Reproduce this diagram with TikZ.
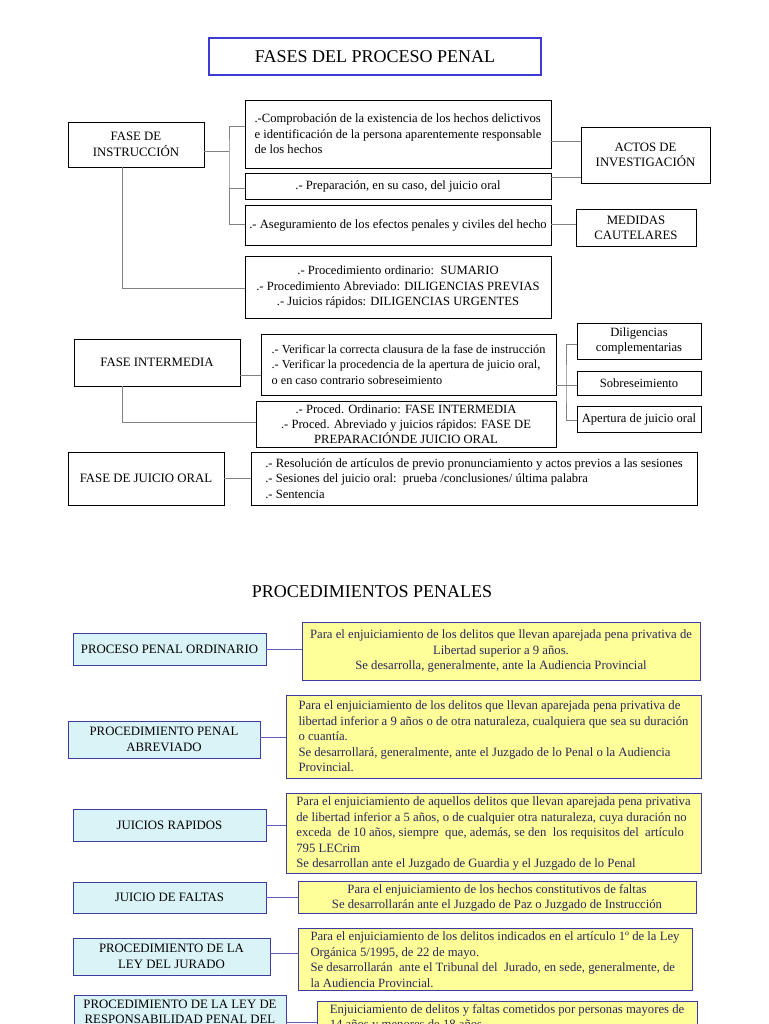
\documentclass[tikz,border=0pt]{standalone}
\usepackage{fontspec}
\setmainfont{Liberation Serif}
\usetikzlibrary{positioning,calc}

\definecolor{azulborde}{RGB}{60,60,160}
\definecolor{azultitulo}{RGB}{60,60,210}
\definecolor{cian}{RGB}{218,243,246}
\definecolor{amarillo}{RGB}{255,255,153}
\definecolor{textoazul}{RGB}{40,40,90}
\definecolor{gris}{RGB}{130,130,130}
\definecolor{enlace}{RGB}{95,95,185}

\tikzset{
  every picture/.style={line width=0.75pt},
  cuerpo/.style={font=\fontsize{12.6}{15.5}\selectfont},
  etiqueta/.style={font=\fontsize{12.8}{15.5}\selectfont},
  fase/.style={draw=black, fill=white, align=center, inner sep=3pt, etiqueta},
  caja/.style={draw=black, fill=white, align=center, inner sep=3pt, cuerpo},
  cajaizq/.style={caja, align=left},
  chica/.style={caja, font=\fontsize{12.6}{14.5}\selectfont},
  link/.style={draw=gris, line width=1pt},
  proc/.style={draw=azulborde, fill=cian, align=center, inner sep=3pt, etiqueta},
  desc/.style={draw=azulborde, fill=amarillo, text=textoazul, align=center, inner sep=3pt, font=\fontsize{12.7}{15.5}\selectfont},
  descizq/.style={desc, align=left},
  linkp/.style={draw=enlace, line width=1pt},
  titulo/.style={font=\fontsize{18}{21}\selectfont}
}

\begin{document}
\begin{tikzpicture}[x=1pt,y=-1pt]
  \useasboundingbox[fill=white] (0,0) rectangle (768,1024);
  \clip (0,0) rectangle (768,1024);

  % Titulo
  \node[titulo, draw=azultitulo, line width=1.8pt, minimum width=332, minimum height=37] (tit) at (375,56.5) {FASES DEL PROCESO PENAL};

  % Fase de instruccion
  \node[fase, minimum width=136, minimum height=45] (fi) at (136,144.5) {FASE DE\\INSTRUCCIÓN};
  \node[cajaizq, minimum width=306, minimum height=68] (b1) at (398,134) {.-Comprobación de la existencia de los hechos delictivos\\e identificación de la persona aparentemente responsable\\de los hechos};
  \node[caja, minimum width=306, minimum height=26] (b2) at (398,186) {.- Preparación, en su caso, del juicio oral};
  \node[caja, minimum width=306, minimum height=40] (b3) at (398,225) {.- Aseguramiento de los efectos penales y civiles del hecho};
  \node[caja, minimum width=306, minimum height=62] (b4) at (398,287) {.- Procedimiento ordinario:\ \ SUMARIO\\.- Procedimiento Abreviado: DILIGENCIAS PREVIAS\\.- Juicios rápidos: DILIGENCIAS URGENTES};
  \node[fase, minimum width=129, minimum height=56] (ac) at (645.5,155) {ACTOS DE\\INVESTIGACIÓN};
  \node[fase, minimum width=120, minimum height=37, font=\fontsize{12.8}{15}\selectfont] (mc) at (636,227.5) {MEDIDAS\\CAUTELARES};

  \coordinate (bi) at (229,152);
  \coordinate (vi) at (122,288);
  \draw[link] (fi.east |- bi) -- (bi);
  \draw[link] (b1.west |- 0,127) -| (bi) |- (b3.west |- 0,225);
  \draw[link] (bi |- 0,189) -- (b2.west |- 0,189);
  \draw[link] (fi.south -| vi) |- (b4.west |- vi);
  \draw[link] (b1.east |- 0,142) -- (ac.west |- 0,142);
  \draw[link] (b2.east |- 0,178) -- (ac.west |- 0,178);
  \draw[link] (b3.east) -- (mc.west |- b3.east);

  % Fase intermedia
  \node[fase, minimum width=166, minimum height=47] (fm) at (157,362.5) {FASE INTERMEDIA};
  \node[cajaizq, minimum width=295, minimum height=61, font=\fontsize{12.3}{15.5}\selectfont] (b5) at (408.5,364.5) {.- Verificar la correcta clausura de la fase de instrucción\\.- Verificar la procedencia de la apertura de juicio oral,\\o en caso contrario sobreseimiento};
  \node[caja, minimum width=300, minimum height=46, font=\fontsize{12.6}{14.8}\selectfont] (b6) at (406,424) {.- Proced. Ordinario: FASE INTERMEDIA\\.- Proced. Abreviado y juicios rápidos: FASE DE\\PREPARACIÓNDE JUICIO ORAL};
  \node[chica, minimum width=124, minimum height=36] (dc) at (639,341) {Diligencias\\complementarias};
  \node[chica, minimum width=124, minimum height=24] (sb) at (639,383) {Sobreseimiento};
  \node[chica, minimum width=124, minimum height=26] (ap) at (639,419) {Apertura de juicio oral};

  \coordinate (bm) at (566,385);
  \coordinate (vm) at (122,422);
  \draw[link] (fm.east |- 0,375) -- (b5.west |- 0,375);
  \draw[link] (fm.south -| vm) |- (b6.west |- vm);
  \draw[link] (b5.east |- bm) -- (bm);
  \draw[link] (dc.west |- 0,344) -| (bm) |- (ap.west |- 0,420);
  \draw[link] (bm) -- (sb.west |- bm);

  % Fase de juicio oral
  \node[fase, minimum width=156, minimum height=53] (fj) at (146,478.5) {FASE DE JUICIO ORAL};
  \node[cajaizq, minimum width=446, minimum height=53] (b7) at (474,478.5) {.- Resolución de artículos de previo pronunciamiento y actos previos a las sesiones\\.- Sesiones del juicio oral:\ \ prueba /conclusiones/ última palabra\\.- Sentencia};
  \draw[link] (fj.east) -- (b7.west |- fj.east);

  % Procedimientos penales
  \node[titulo] (tit2) at (372,592) {PROCEDIMIENTOS PENALES};

  \node[proc, minimum width=193, minimum height=32] (c1) at (169.5,649) {PROCESO PENAL ORDINARIO};
  \node[desc, minimum width=398, minimum height=58] (y1) at (501,651) {Para el enjuiciamiento de los delitos que llevan aparejada pena privativa de\\Libertad superior a 9 años.\\Se desarrolla, generalmente, ante la Audiencia Provincial};

  \node[proc, minimum width=192, minimum height=37] (c2) at (164,739.5) {PROCEDIMIENTO PENAL\\ABREVIADO};
  \node[descizq, minimum width=415, minimum height=83] (y2) at (493.5,736.5) {Para el enjuiciamiento de los delitos que llevan aparejada pena privativa de\\libertad inferior a 9 años o de otra naturaleza, cualquiera que sea su duración\\o cuantía.\\Se desarrollará, generalmente, ante el Juzgado de lo Penal o la Audiencia\\Provincial.};

  \node[proc, minimum width=193, minimum height=32] (c3) at (169.5,825) {JUICIOS RAPIDOS};
  \node[descizq, minimum width=415, minimum height=79] (y3) at (493.5,833.5) {Para el enjuiciamiento de aquellos delitos que llevan aparejada pena privativa\\de libertad inferior a 5 años, o de cualquier otra naturaleza, cuya duración no\\exceda\ \ de 10 años, siempre\ \ que, además, se den\ \ los requisitos del\ \ artículo\\795 LECrim\\Se desarrollan ante el Juzgado de Guardia y el Juzgado de lo Penal};

  \node[proc, minimum width=193, minimum height=31] (c4) at (169.5,897.5) {JUICIO DE FALTAS};
  \node[desc, minimum width=398, minimum height=31, font=\fontsize{12.7}{15}\selectfont] (y4) at (497,897.5) {Para el enjuiciamiento de los hechos constitutivos de faltas\\Se desarrollarán ante el Juzgado de Paz o Juzgado de Instrucción};

  \node[proc, minimum width=197, minimum height=37] (c5) at (171.5,956.5) {PROCEDIMIENTO DE LA\\LEY DEL JURADO};
  \node[descizq, minimum width=394, minimum height=61] (y5) at (495,959.5) {Para el enjuiciamiento de los delitos indicados en el artículo 1º de la Ley\\Orgánica 5/1995, de 22 de mayo.\\Se desarrollarán\ \ ante el Tribunal del\ \ Jurado, en sede, generalmente, de\\la Audiencia Provincial.};

  \node[proc, minimum width=212, minimum height=34] (c6) at (180,1012) {PROCEDIMIENTO DE LA LEY DE\\RESPONSABILIDAD PENAL DEL};
  \node[descizq, minimum width=380, minimum height=34] (y6) at (507,1018) {Enjuiciamiento de delitos y faltas cometidos por personas mayores de\\14 años y menores de 18 años};

  \draw[linkp] (c1.east) -- (y1.west |- c1.east);
  \draw[linkp] (c2.east |- 0,737) -- (y2.west |- 0,737);
  \draw[linkp] (c3.east) -- (y3.west |- c3.east);
  \draw[linkp] (c4.east) -- (y4.west |- c4.east);
  \draw[linkp] (c5.east |- 0,953) -- (y5.west |- 0,953);
  \draw[linkp] (c6.east |- 0,1022) -- (y6.west |- 0,1022);
\end{tikzpicture}
\end{document}
